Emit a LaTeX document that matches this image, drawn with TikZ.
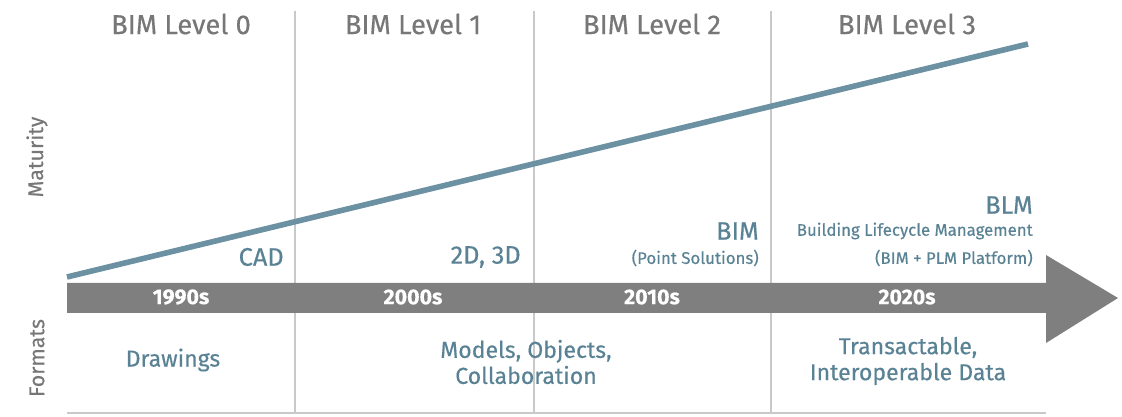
\documentclass[tikz,border=0pt]{standalone}
\usepackage{fontspec}
\setmainfont{Fira Sans}[FakeBold=0.4, BoldFont=Fira Sans Bold]
\definecolor{titlegray}{HTML}{777777}
\definecolor{bluetxt}{HTML}{5A8295}
\definecolor{blueline}{HTML}{6C91A2}
\definecolor{bargray}{HTML}{7F7F7F}
\definecolor{divgray}{HTML}{C9C9C9}
\tikzset{
  title/.style={text=titlegray, font=\fontsize{20.5}{22}\selectfont, inner sep=0pt},
  axislab/.style={text=titlegray, font=\fontsize{16}{18}\selectfont, inner sep=0pt, rotate=90},
  tool/.style={text=bluetxt, font=\fontsize{19}{21}\selectfont, inner sep=0pt, anchor=east},
  toolsmall/.style={text=bluetxt, font=\fontsize{12.6}{14}\selectfont, inner sep=0pt, anchor=east},
  decade/.style={text=white, font=\bfseries\fontsize{16}{18}\selectfont, inner sep=0pt},
  fmt/.style={text=bluetxt, font=\fontsize{17.3}{19.5}\selectfont, inner sep=0pt, align=center},
  divider/.style={draw=divgray, line width=1.6pt},
}
\begin{document}
\begin{tikzpicture}[x=0.75pt,y=-0.75pt]
\useasboundingbox (0,0) rectangle (1122,417);
% dividers
\draw[divider] (295,11) -- (295,414);
\draw[divider] (534,11) -- (534,414);
\draw[divider] (771,11) -- (771,414);
\draw[divider] (67,413) -- (1046,413);
% arrow
\fill[bargray] (67,283) -- (1046,283) -- (1046,255) -- (1118,298) -- (1046,343) -- (1046,313) -- (67,313) -- cycle;
% maturity line
\coordinate (ls) at (67,277);
\coordinate (le) at (1028,44);
\draw[blueline, line width=4.2pt] (ls) -- (le);
% titles
\node[title] (l0) at (181,24) {BIM Level 0};
\node[title] (l1) at (413,24) {BIM Level 1};
\node[title] (l2) at (652,24) {BIM Level 2};
\node[title] (l3) at (907,24) {BIM Level 3};
% axis labels
\node[axislab] (mat) at (37,157) {Maturity};
\node[axislab] (fmts) at (37,358) {Formats};
% tools
\node[tool] (cad) at (284,257) {CAD};
\node[tool] (d23) at (521,257) {2D, 3D};
\node[tool] (bim) at (759,231) {BIM};
\node[toolsmall] (ps) at (759,258) {(Point Solutions)};
\node[tool] (blm) at (1033,205) {BLM};
\node[toolsmall] (blmf) at (1033,231) {Building Lifecycle Management};
\node[toolsmall] (plm) at (1033,258) {(BIM + PLM Platform)};
% decades
\node[decade] (d90) at (181,297) {1990s};
\node[decade] (d00) at (413,297) {2000s};
\node[decade] (d10) at (652,297) {2010s};
\node[decade] (d20) at (907,297) {2020s};
% formats
\node[fmt] (f0) at (173,360) {Drawings};
\node[fmt] (f1) at (526,362) {Models, Objects,\\Collaboration};
\node[fmt] (f2) at (908,361) {Transactable,\\Interoperable Data};
\end{tikzpicture}
\end{document}
